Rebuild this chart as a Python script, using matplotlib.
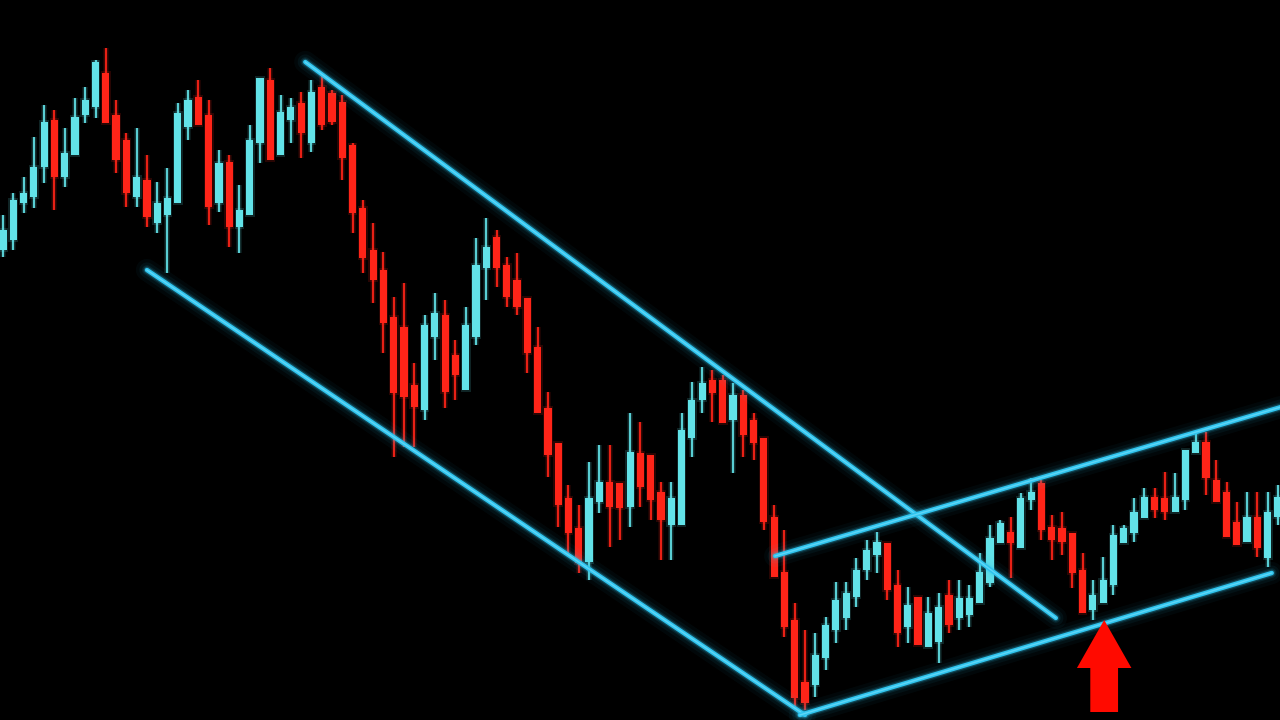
import matplotlib
matplotlib.use("Agg")
import matplotlib.pyplot as plt
import matplotlib.patches as patches
import numpy as np

# candle data (arbitrary price units), one entry per bar
opens = [470, 480, 517, 523, 553, 600, 543, 565, 605, 613, 647, 605, 580, 523, 540, 497, 505, 517,
         593, 623, 605, 517, 558, 493, 505, 577, 640, 565, 600, 617, 577, 633, 627, 618, 575, 512,
         470, 450, 403, 393, 335, 310, 383, 405, 365, 330, 383, 452, 483, 455, 440, 422, 373, 312,
         277, 222, 192, 158, 218, 238, 237, 213, 267, 265, 228, 195, 195, 282, 320, 340, 340, 300,
         325, 300, 282, 203, 148, 100, 38, 35, 62, 90, 102, 123, 150, 165, 177, 135, 93, 123,
         73, 78, 125, 102, 105, 117, 137, 177, 188, 172, 220, 237, 193, 192, 187, 150, 110, 117,
         135, 177, 187, 202, 223, 222, 208, 220, 267, 278, 240, 228, 198, 178, 203, 162, 203]
closes = [490, 520, 527, 553, 598, 543, 567, 603, 620, 658, 597, 560, 527, 543, 503, 517, 522, 607,
          620, 595, 513, 557, 493, 510, 580, 642, 560, 608, 613, 587, 628, 595, 598, 562, 507, 462,
          440, 397, 327, 323, 313, 395, 407, 328, 345, 395, 455, 473, 452, 423, 413, 367, 307, 265,
          215, 187, 157, 222, 238, 213, 212, 268, 233, 220, 200, 222, 290, 320, 337, 327, 297, 325,
          285, 277, 198, 143, 93, 22, 17, 65, 95, 120, 127, 150, 170, 178, 130, 87, 115, 75,
          107, 113, 95, 122, 122, 148, 182, 197, 177, 222, 228, 190, 180, 178, 147, 107, 125, 140,
          185, 192, 208, 223, 210, 208, 223, 270, 278, 242, 218, 183, 175, 203, 172, 208, 223]
highs = [505, 527, 543, 583, 615, 610, 592, 622, 633, 660, 672, 620, 587, 592, 565, 538, 552, 617,
         630, 640, 620, 570, 565, 535, 595, 642, 652, 625, 622, 628, 640, 645, 630, 625, 577, 520,
         497, 468, 423, 437, 357, 405, 427, 420, 380, 413, 482, 502, 490, 463, 467, 422, 393, 328,
         277, 235, 215, 258, 275, 275, 237, 307, 298, 265, 238, 238, 307, 338, 353, 350, 345, 337,
         330, 307, 282, 215, 190, 117, 90, 87, 103, 138, 138, 162, 180, 188, 177, 150, 133, 123,
         123, 127, 140, 140, 135, 167, 195, 200, 203, 227, 242, 240, 205, 208, 187, 167, 140, 163,
         195, 195, 222, 232, 232, 248, 247, 270, 287, 288, 260, 238, 218, 228, 228, 228, 235]
lows = [463, 470, 507, 512, 537, 510, 533, 565, 597, 602, 597, 547, 513, 513, 493, 487, 447, 517,
        580, 595, 495, 508, 473, 467, 505, 557, 560, 565, 577, 562, 568, 590, 595, 540, 487, 447,
        417, 367, 263, 273, 273, 300, 360, 312, 320, 330, 375, 420, 433, 413, 405, 347, 307, 243,
        193, 167, 147, 140, 207, 173, 180, 193, 213, 200, 160, 160, 195, 263, 307, 298, 297, 247,
        263, 260, 190, 143, 83, 13, 10, 23, 50, 77, 90, 113, 140, 147, 120, 73, 77, 75,
        73, 57, 87, 90, 93, 117, 133, 177, 142, 172, 210, 180, 160, 165, 132, 107, 100, 117,
        125, 177, 178, 202, 202, 200, 208, 210, 267, 225, 218, 183, 175, 178, 163, 153, 195]

# channel lines: (bar index, price) endpoints
down_upper = [(29.4, 658), (102.4, 102)]
down_lower = [(14.0, 450), (78.0, 5)]
up_lower = [(77.5, 5), (123.4, 147)]
up_upper = [(75.1, 164), (124.3, 313)]

# signal arrow under bar 107
arrow_bar = 107.1
arrow_tip = 100

BG = "#000000"
UP = "#62e2e8"
DOWN = "#ff2418"
LINE = "#2fc4ee"

fig = plt.figure(figsize=(12.8, 7.2), dpi=100)
fig.patch.set_facecolor(BG)
ax = fig.add_axes([0, 0, 1, 1])
ax.set_facecolor(BG)

x = np.arange(len(opens))
o = np.array(opens, dtype=float)
c = np.array(closes, dtype=float)
h = np.array(highs, dtype=float)
l = np.array(lows, dtype=float)
colors = [UP if cc >= oo else DOWN for oo, cc in zip(o, c)]

# soft glow under candles
ax.vlines(x, l, h, colors=colors, linewidth=4, alpha=0.14, zorder=2)
ax.vlines(x, l, h, colors=colors, linewidth=1.6, alpha=0.9, zorder=3)
bottoms = np.minimum(o, c)
heights = np.maximum(np.abs(c - o), 4)
ax.bar(x, heights + 4, bottom=bottoms - 2, width=0.95, color=colors, alpha=0.16,
       linewidth=0, zorder=3)
ax.bar(x, heights, bottom=bottoms, width=0.7, color=colors, linewidth=0, zorder=4)


def glow_line(pts):
    xs = [p[0] for p in pts]
    ys = [p[1] for p in pts]
    for lw, a in [(16, 0.04), (11, 0.06), (7, 0.1), (5, 0.22)]:
        ax.plot(xs, ys, color=LINE, linewidth=lw, alpha=a, solid_capstyle="round", zorder=5)
    ax.plot(xs, ys, color=LINE, linewidth=3.2, solid_capstyle="round", zorder=6)
    ax.plot(xs, ys, color="#8fe8ff", linewidth=1.0, alpha=0.5, zorder=6)


for line in [down_upper, down_lower, up_lower, up_upper]:
    glow_line(line)

# red arrow pointing up at the channel bottom
head_w, shaft_w = 2.65, 2.7
head_h, total_h = 48, 92
arrow = patches.Polygon(
    [
        (arrow_bar, arrow_tip),
        (arrow_bar + head_w, arrow_tip - head_h),
        (arrow_bar + shaft_w / 2, arrow_tip - head_h),
        (arrow_bar + shaft_w / 2, arrow_tip - total_h),
        (arrow_bar - shaft_w / 2, arrow_tip - total_h),
        (arrow_bar - shaft_w / 2, arrow_tip - head_h),
        (arrow_bar - head_w, arrow_tip - head_h),
    ],
    closed=True, facecolor="#ff0a00", edgecolor="none", zorder=7,
)
ax.add_patch(arrow)

ax.set_xlim(-0.29, 124.2)
ax.set_ylim(0, 720)
ax.axis("off")

fig.savefig("out.png", dpi=100, facecolor=BG)
